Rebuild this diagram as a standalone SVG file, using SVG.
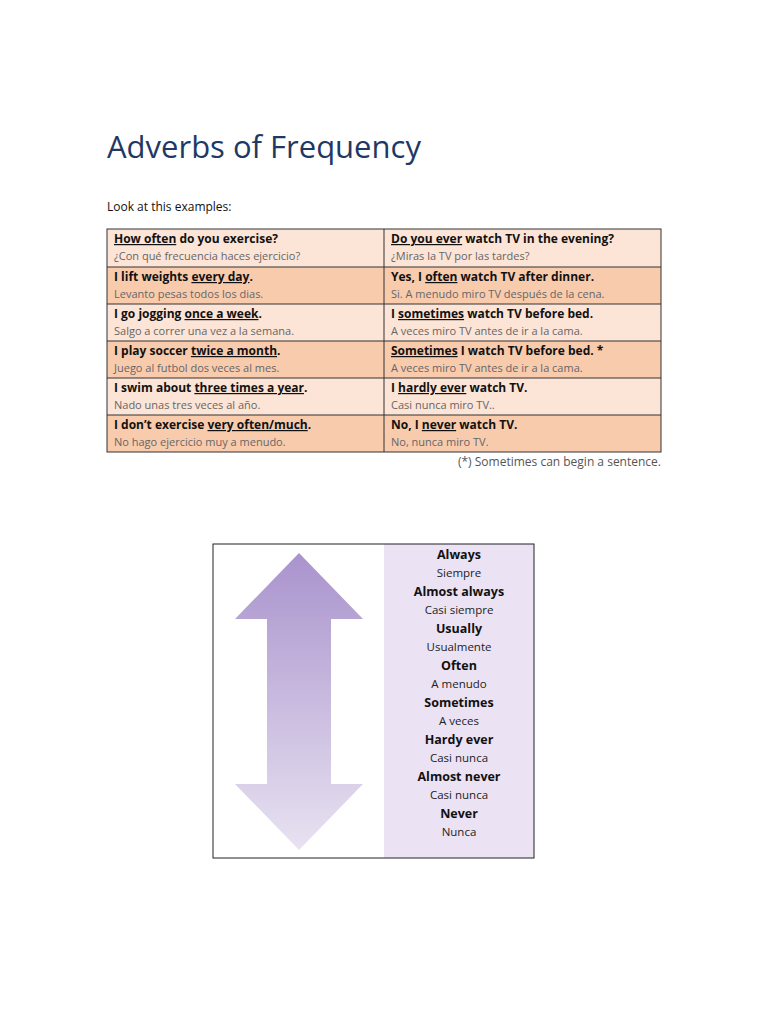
<svg xmlns="http://www.w3.org/2000/svg" width="768" height="1024" viewBox="0 0 768 1024">
<style>
.b{font-family:"Open Sans","Liberation Sans",sans-serif;font-weight:bold;font-size:12px;fill:#111}
.s{font-family:"Open Sans","Liberation Sans",sans-serif;font-size:11px;fill:#666}
.u{text-decoration:underline}
.l{fill:#fce4d6}.d{fill:#f8cbad}
.pb{font-family:"Open Sans","Liberation Sans",sans-serif;font-weight:bold;font-size:12.5px;fill:#111;text-anchor:middle}
.ps{font-family:"Open Sans","Liberation Sans",sans-serif;font-size:11.5px;fill:#222;text-anchor:middle}
</style>
<defs><linearGradient id="g" x1="0" y1="0" x2="0" y2="1"><stop offset="0" stop-color="#a993cd"/><stop offset="1" stop-color="#e8e2f1"/></linearGradient></defs>
<rect width="768" height="1024" fill="#fff"/>
<text x="107" y="158" font-family="Open Sans, Liberation Sans, sans-serif" font-size="31" fill="#1f3864">Adverbs of Frequency</text>
<text x="107" y="211" font-family="Open Sans, Liberation Sans, sans-serif" font-size="12" fill="#111">Look at this examples:</text>
<g id="table">
<rect class="l" x="107" y="229" width="554" height="38"/>
<rect class="d" x="107" y="267" width="554" height="37"/>
<rect class="l" x="107" y="304" width="554" height="37"/>
<rect class="d" x="107" y="341" width="554" height="37"/>
<rect class="l" x="107" y="378" width="554" height="37"/>
<rect class="d" x="107" y="415" width="554" height="37"/>
<g stroke="#333" stroke-width="1" fill="none">
<rect x="107" y="229" width="554" height="223"/>
<line x1="384" y1="229" x2="384" y2="452"/>
<line x1="107" y1="267" x2="661" y2="267"/><line x1="107" y1="304" x2="661" y2="304"/>
<line x1="107" y1="341" x2="661" y2="341"/><line x1="107" y1="378" x2="661" y2="378"/>
<line x1="107" y1="415" x2="661" y2="415"/>
</g>
<text class="b" x="114" y="243"><tspan class="u">How often</tspan> do you exercise?</text>
<text class="s" x="114" y="260">¿Con qué frecuencia haces ejercicio?</text>
<text class="b" x="391" y="243"><tspan class="u">Do you ever</tspan> watch TV in the evening?</text>
<text class="s" x="391" y="260">¿Miras la TV por las tardes?</text>
<text class="b" x="114" y="281">I lift weights <tspan class="u">every day</tspan>.</text>
<text class="s" x="114" y="298">Levanto pesas todos los dias.</text>
<text class="b" x="391" y="281">Yes, I <tspan class="u">often</tspan> watch TV after dinner.</text>
<text class="s" x="391" y="298">Si. A menudo miro TV después de la cena.</text>
<text class="b" x="114" y="318">I go jogging <tspan class="u">once a week</tspan>.</text>
<text class="s" x="114" y="335">Salgo a correr una vez a la semana.</text>
<text class="b" x="391" y="318">I <tspan class="u">sometimes</tspan> watch TV before bed.</text>
<text class="s" x="391" y="335">A veces miro TV antes de ir a la cama.</text>
<text class="b" x="114" y="355">I play soccer <tspan class="u">twice a month</tspan>.</text>
<text class="s" x="114" y="372">Juego al futbol dos veces al mes.</text>
<text class="b" x="391" y="355"><tspan class="u">Sometimes</tspan> I watch TV before bed. *</text>
<text class="s" x="391" y="372">A veces miro TV antes de ir a la cama.</text>
<text class="b" x="114" y="392">I swim about <tspan class="u">three times a year</tspan>.</text>
<text class="s" x="114" y="409">Nado unas tres veces al año.</text>
<text class="b" x="391" y="392">I <tspan class="u">hardly ever</tspan> watch TV.</text>
<text class="s" x="391" y="409">Casi nunca miro TV..</text>
<text class="b" x="114" y="429">I don’t exercise <tspan class="u">very often/much</tspan>.</text>
<text class="s" x="114" y="446">No hago ejercicio muy a menudo.</text>
<text class="b" x="391" y="429">No, I <tspan class="u">never</tspan> watch TV.</text>
<text class="s" x="391" y="446">No, nunca miro TV.</text>
</g>
<text x="661" y="466" text-anchor="end" font-family="Open Sans, Liberation Sans, sans-serif" font-size="12" fill="#555">(*) Sometimes can begin a sentence.</text>
<g id="scale">
<rect x="384" y="544" width="150" height="314" fill="#ebe2f4"/>
<rect x="213" y="544" width="321" height="314" fill="none" stroke="#222" stroke-width="1"/>
<path d="M299 553 L363 619 L331 619 L331 784 L363 784 L299 850 L235 784 L267 784 L267 619 L235 619 Z" fill="url(#g)"/>
<text class="pb" x="459" y="559">Always</text>
<text class="ps" x="459" y="577">Siempre</text>
<text class="pb" x="459" y="596">Almost always</text>
<text class="ps" x="459" y="614">Casi siempre</text>
<text class="pb" x="459" y="633">Usually</text>
<text class="ps" x="459" y="651">Usualmente</text>
<text class="pb" x="459" y="670">Often</text>
<text class="ps" x="459" y="688">A menudo</text>
<text class="pb" x="459" y="707">Sometimes</text>
<text class="ps" x="459" y="725">A veces</text>
<text class="pb" x="459" y="744">Hardy ever</text>
<text class="ps" x="459" y="762">Casi nunca</text>
<text class="pb" x="459" y="781">Almost never</text>
<text class="ps" x="459" y="799">Casi nunca</text>
<text class="pb" x="459" y="818">Never</text>
<text class="ps" x="459" y="836">Nunca</text>
</g>
</svg>
